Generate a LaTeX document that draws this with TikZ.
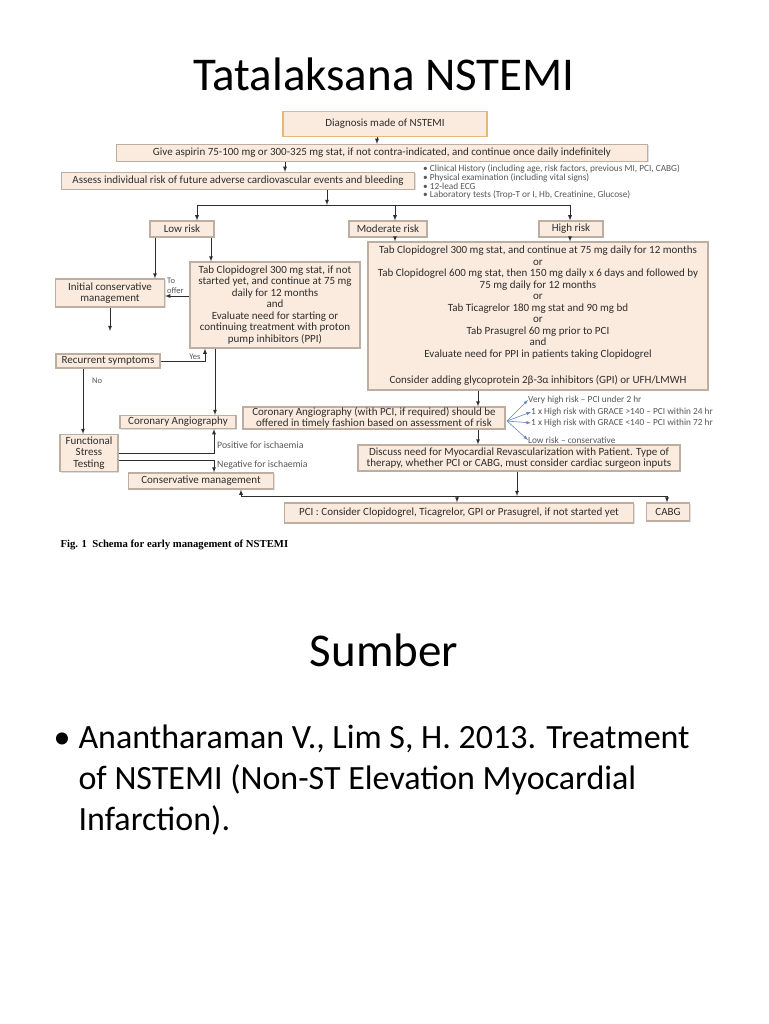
\documentclass[tikz,border=0pt]{standalone}
\usepackage{fontspec}
\setmainfont{Carlito}
\newfontfamily\capfont{Liberation Serif}
\usetikzlibrary{shadows}

\definecolor{boxfill}{RGB}{251,235,222}
\definecolor{boxline}{RGB}{188,174,160}
\definecolor{diagline}{RGB}{228,184,122}
\definecolor{fanblue}{RGB}{105,135,185}
\definecolor{ink}{RGB}{45,45,45}

\newcommand\flowfont{\fontsize{11}{11.5}\selectfont}
\newcommand\notefont{\fontsize{9.3}{8.7}\selectfont}

\tikzset{
	box/.style={draw=boxline, fill=boxfill, line width=1.1pt, inner sep=0pt, align=center,
		font=\flowfont, text=ink, drop shadow={shadow xshift=1pt, shadow yshift=-1pt, opacity=0.25}},
	sz/.style 2 args={minimum width=#1, minimum height=#2},
	smalltext/.style={font=\notefont, text=ink!80, inner sep=0pt},
	wire/.style={line width=0.8pt, draw=ink},
	link/.style={wire, ->, >=latex},
	fanarrow/.style={->, >=latex, line width=0.6pt, draw=fanblue},
}

\begin{document}
\begin{tikzpicture}[x=1pt, y=-1pt]
	%\draw[help lines] (0,0) grid[step=50] (768,1024);
	\fill[white] (0,0) rectangle (768,1024);
	\useasboundingbox (0,0) rectangle (768,1024);

	% slide text
	\node[anchor=base, font=\fontsize{47}{56}\selectfont] (title) at (384,91) {Tatalaksana NSTEMI};
	\node[anchor=base, font=\fontsize{47}{56}\selectfont] (sumber) at (384,666) {Sumber};
	\node[anchor=base west, font=\fontsize{34}{41}\selectfont] (bullet) at (50,748) {•};
	\node[anchor=base west, font=\fontsize{34}{41}\selectfont] (src1) at (75,748) {Anantharaman V., Lim S, H. 2013. Treatment};
	\node[anchor=base west, font=\fontsize{34}{41}\selectfont] (src2) at (75,789) {of NSTEMI (Non-ST Elevation Myocardial};
	\node[anchor=base west, font=\fontsize{34}{41}\selectfont] (src3) at (75,830) {Infarction).};

	% boxes of the schema
	\node[box, sz={204}{25}, draw=diagline, line width=1.6pt] (diag) at (385,124) {Diagnosis made of NSTEMI};
	\node[box, sz={531}{17}] (asp) at (382,153) {Give aspirin 75-100 mg or 300-325 mg stat, if not contra-indicated, and continue once daily indefinitely};
	\node[box, sz={353}{17}] (assess) at (238,181) {Assess individual risk of future adverse cardiovascular events and bleeding};
	\node[smalltext, anchor=west, align=left] (hist) at (423,182) {• Clinical History (including age, risk factors, previous MI, PCI, CABG)\\
		• Physical examination (including vital signs)\\
		• 12-lead ECG\\
		• Laboratory tests (Trop-T or I, Hb, Creatinine, Glucose)};

	\node[box, sz={64}{16}] (low) at (182,229) {Low risk};
	\node[box, sz={78}{16}] (mod) at (388,229) {Moderate risk};
	\node[box, sz={64}{16}] (high) at (571,229) {High risk};

	\node[box, sz={109}{28}] (init) at (110,293) {Initial conservative\\management};
	\node[box, sz={170}{86}] (clopL) at (275,305) {Tab Clopidogrel 300 mg stat, if not\\
		started yet, and continue at 75 mg\\daily for 12 months\\and\\Evaluate need for starting or\\
		continuing treatment with proton\\pump inhibitors (PPI)};
	\node[box, sz={104}{14}] (recur) at (108,361) {Recurrent symptoms};

	\node[box, sz={340}{148}] (big) at (538,316) {Tab Clopidogrel 300 mg stat, and continue at 75 mg daily for 12 months\\or\\
		Tab Clopidogrel 600 mg stat, then 150 mg daily x 6 days and followed by\\75 mg daily for 12 months\\or\\
		Tab Ticagrelor 180 mg stat and 90 mg bd\\or\\Tab Prasugrel 60 mg prior to PCI\\and\\
		Evaluate need for PPI in patients taking Clopidogrel\\[15pt]
		Consider adding glycoprotein 2β-3α inhibitors (GPI) or UFH/LMWH};

	\node[box, sz={116}{13}] (corL) at (178,422) {Coronary Angiography};
	\node[box, sz={262}{22}, font=\fontsize{11}{10.5}\selectfont] (corR) at (374,418) {Coronary Angiography (with PCI, if required) should be\\
		offered in timely fashion based on assessment of risk};
	\node[smalltext, anchor=west] (r1) at (528,400) {Very high risk -- PCI under 2 hr};
	\node[smalltext, anchor=west] (r2) at (531,412) {1 x High risk with GRACE >140 -- PCI within 24 hr};
	\node[smalltext, anchor=west] (r3) at (531,423) {1 x High risk with GRACE <140 -- PCI within 72 hr};
	\node[smalltext, anchor=west] (r4) at (528,440) {Low risk -- conservative};

	\node[box, sz={58}{37}] (func) at (89,453) {Functional\\Stress\\Testing};
	\node[box, sz={145}{16}] (cons) at (201,481) {Conservative management};
	\node[box, sz={322}{26}, font=\fontsize{11}{10.5}\selectfont] (disc) at (519,458) {Discuss need for Myocardial Revascularization with Patient. Type of\\
		therapy, whether PCI or CABG, must consider cardiac surgeon inputs};
	\node[box, sz={349}{20}] (pci) at (459,513) {PCI : Consider Clopidogrel, Ticagrelor, GPI or Prasugrel, if not started yet};
	\node[box, sz={43}{18}] (cabg) at (668,512) {CABG};

	\node[anchor=base west, font=\capfont\bfseries\fontsize{10.7}{12}\selectfont] (caption) at (57,547) {Fig. 1\enspace Schema for early management of NSTEMI};

	% where the connectors run
	\coordinate (xA) at (377,0);
	\coordinate (xB) at (285,0);
	\coordinate (bus) at (327,205);
	\coordinate (xlow) at (197,0);
	\coordinate (xmod) at (395,0);
	\coordinate (xhigh) at (570,0);
	\coordinate (xinit) at (155,0);
	\coordinate (xclop) at (211,0);
	\coordinate (yoffer) at (0,296);
	\coordinate (initend) at (110,331);
	\coordinate (xyes) at (205,0);
	\coordinate (xcor) at (215,0);
	\coordinate (xno) at (83,0);
	\coordinate (xtest) at (214,0);
	\coordinate (ypos) at (0,453);
	\coordinate (yneg) at (0,460);
	\coordinate (xbig) at (478,0);
	\coordinate (fan) at (507,421);
	\coordinate (bus2) at (517,496);
	\coordinate (xcons) at (241,0);
	\coordinate (xpci) at (457,0);
	\coordinate (xcabg) at (667,0);

	\draw[link] (diag.south -| xA) -- (asp.north -| xA);
	\draw[link] (asp.south -| xB) -- (assess.north -| xB);
	\draw[link] (assess.south -| bus) -- (bus);
	\draw[wire] (bus -| xlow) -- (bus -| xhigh);
	\draw[link] (bus -| xlow) -- (low.north -| xlow);
	\draw[link] (bus -| xmod) -- (mod.north -| xmod);
	\draw[link] (bus -| xhigh) -- (high.north -| xhigh);

	\draw[link] (low.south -| xinit) -- (init.north -| xinit);
	\draw[link] (low.south -| xclop) -- (clopL.north -| xclop);
	\draw[link] (clopL.west |- yoffer) -- (init.east |- yoffer);
	\node[smalltext, font=\fontsize{8.5}{10}\selectfont, anchor=west, align=left] (offer) at (167,286) {To\\offer};
	\draw[link] (init.south) -- (initend);
	\draw[link] (recur.east) -| (clopL.south -| xyes);
	\node[smalltext, font=\fontsize{8.5}{10}\selectfont] (yes) at (195,357) {Yes};
	\draw[link] (clopL.south -| xcor) -- (corL.north -| xcor);
	\draw[link] (recur.south -| xno) -- (func.north -| xno);
	\node[smalltext, font=\fontsize{8.5}{10}\selectfont] (no) at (97,381) {No};

	\draw[link] (func.east |- ypos) -| (corL.south -| xtest);
	\node[smalltext, font=\fontsize{9.8}{10}\selectfont, anchor=west] (pos) at (217,445) {Positive for ischaemia};
	\draw[link] (func.east |- yneg) -| (cons.north -| xtest);
	\node[smalltext, font=\fontsize{9.8}{10}\selectfont, anchor=west] (neg) at (217,465) {Negative for ischaemia};

	\draw[link] (mod.south -| xmod) -- (big.north -| xmod);
	\draw[link] (high.south -| xhigh) -- (big.north -| xhigh);
	\draw[link] (big.south -| xbig) -- (corR.north -| xbig);
	\foreach \r in {r1,r2,r3,r4}
		\draw[fanarrow] (fan) -- (\r.west);
	\draw[link] (corR.south -| xbig) -- (disc.north -| xbig);

	\draw[link] (disc.south -| bus2) -- (bus2);
	\draw[wire] (bus2 -| xcons) -- (bus2 -| xcabg);
	\draw[link] (bus2 -| xcons) -- (cons.south -| xcons);
	\draw[link] (bus2 -| xpci) -- (pci.north -| xpci);
	\draw[link] (bus2 -| xcabg) -- (cabg.north -| xcabg);
\end{tikzpicture}
\end{document}
